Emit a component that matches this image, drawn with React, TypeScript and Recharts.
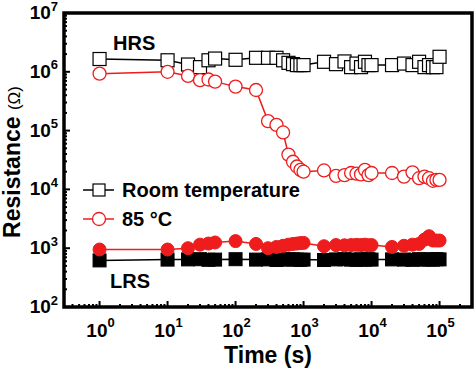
import { LineChart, Line, XAxis, YAxis, ReferenceArea } from 'recharts';

// time points (s)
const times = [1, 10, 20, 30, 40, 50, 100, 200, 300, 400, 500, 600, 700, 800, 900, 1000, 2000, 3000, 4000, 5000, 6000, 7000, 8000, 9000, 10000, 20000, 30000, 40000, 50000, 60000, 70000, 80000, 90000, 100000];

// resistance (ohm)
const rtHrs = [1.65e6, 1.57e6, 1.33e6, 1.2e6, 1.57e6, 1.68e6, 1.6e6, 1.73e6, 1.73e6, 1.73e6, 1.57e6, 1.42e6, 1.35e6, 1.3e6, 1.3e6, 1.3e6, 1.48e6, 1.35e6, 1.5e6, 1.2e6, 1.38e6, 1.2e6, 1.48e6, 1.3e6, 1.3e6, 1.3e6, 1.38e6, 1.3e6, 1.48e6, 1.2e6, 1.3e6, 1.2e6, 1.2e6, 1.8e6];
const hotHrs = [9.3e5, 1.0e6, 8.5e5, 7.2e5, 7.4e5, 6.8e5, 5.6e5, 4.9e5, 1.45e5, 1.25e5, 9.3e4, 3.9e4, 2.95e4, 2.45e4, 2.15e4, 2.0e4, 2.1e4, 1.7e4, 1.75e4, 1.9e4, 1.85e4, 1.8e4, 2.15e4, 1.75e4, 1.9e4, 1.9e4, 1.65e4, 1.95e4, 1.55e4, 1.65e4, 1.55e4, 1.4e4, 1.45e4, 1.45e4];
const hotLrs = [950, 950, 1000, 1150, 1200, 1250, 1320, 1180, 1000, 1050, 1100, 1150, 1180, 1200, 1220, 1230, 1080, 1130, 1120, 1130, 1140, 1130, 1150, 1120, 1130, 1050, 1100, 1150, 1180, 1400, 1600, 1350, 1350, 1350];
const rtLrs = [620, 640, 645, 650, 635, 640, 650, 640, 645, 630, 640, 650, 645, 640, 635, 640, 630, 645, 650, 640, 635, 645, 640, 650, 640, 645, 640, 635, 650, 640, 645, 640, 650, 645];

const xMajorTicks = [1, 10, 100, 1000, 10000, 100000];
const yMajorTicks = [100, 1000, 10000, 100000, 1000000, 10000000];

const toPoints = (vals: number[]) => times.map((t, i) => ({ t, r: vals[i] }));

const withMinors = (majors: number[], lo: number, hi: number) => {
  const out: number[] = [];
  majors.concat([majors[0] / 10]).forEach((m) => {
    for (let k = 1; k <= 9; k++) {
      const v = m * k;
      if (v >= lo && v <= hi) out.push(v);
    }
  });
  return out.sort((a, b) => a - b);
};

const FONT = '"Liberation Sans", Arial, sans-serif';
const RED = '#ee1c1c';

const isMajor = (v: number) => Math.abs(Math.log10(v) - Math.round(Math.log10(v))) < 1e-6;

function XTick({ x, y, payload }: any) {
  const v = payload.value;
  const major = isMajor(v);
  return (
    <g>
      <line x1={x} y1={y} x2={x} y2={y - (major ? 6 : 3)} stroke="#000" strokeWidth={2} />
      {major && (
        <text x={x + 1} y={y + 30} textAnchor="middle" fontFamily={FONT} fontWeight="bold" fontSize={19} fill="#000">
          10<tspan dy={-10} fontSize={13}>{Math.round(Math.log10(v))}</tspan>
        </text>
      )}
    </g>
  );
}

function YTick({ x, y, payload }: any) {
  const v = payload.value;
  const major = isMajor(v);
  return (
    <g>
      <line x1={x} y1={y} x2={x + (major ? 6 : 3)} y2={y} stroke="#000" strokeWidth={2} />
      {major && (
        <text x={x - 6} y={y + 6} textAnchor="end" fontFamily={FONT} fontWeight="bold" fontSize={19} fill="#000">
          10<tspan dy={-8.5} fontSize={13}>{Math.round(Math.log10(v))}</tspan>
        </text>
      )}
    </g>
  );
}

const openSquare = (p: any) => (
  <rect key={p.index} x={p.cx - 6.5} y={p.cy - 6.5} width={13} height={13} fill="#fff" stroke="#000" strokeWidth={1.2} />
);
const filledSquare = (p: any) => (
  <rect key={p.index} x={p.cx - 6.5} y={p.cy - 6.5} width={13} height={13} fill="#000" stroke="#000" />
);

export default function App() {
  return (
    <div style={{ position: 'absolute', left: 0, top: 0, width: 474, height: 370, background: '#fff' }}>
      <LineChart width={474} height={370} margin={{ top: 13, right: 2, bottom: 0, left: 0 }}>
        <XAxis
          dataKey="t"
          type="number"
          scale="log"
          domain={[0.3, 300000]}
          allowDataOverflow
          ticks={withMinors(xMajorTicks, 0.3, 300000)}
          interval={0}
          height={63}
          axisLine={false}
          tickLine={false}
          tickSize={0}
          tickMargin={0}
          tick={<XTick />}
        />
        <YAxis
          dataKey="r"
          type="number"
          scale="log"
          domain={[100, 10000000]}
          allowDataOverflow
          ticks={withMinors(yMajorTicks, 100, 10000000)}
          interval={0}
          width={64}
          axisLine={false}
          tickLine={false}
          tickSize={0}
          tickMargin={0}
          tick={<YTick />}
        />
        <ReferenceArea x1={0.3} x2={300000} y1={100} y2={10000000} fill="none" stroke="#000" strokeWidth={3.5} ifOverflow="visible" />
        <Line data={toPoints(rtLrs)} dataKey="r" stroke="#000" strokeWidth={1.5} dot={filledSquare} isAnimationActive={false} />
        <Line data={toPoints(rtHrs)} dataKey="r" stroke="#000" strokeWidth={1.5} dot={openSquare} isAnimationActive={false} />
        <Line data={toPoints(hotLrs)} dataKey="r" stroke={RED} strokeWidth={1.5} dot={{ r: 6.5, fill: RED, stroke: RED, strokeWidth: 1 }} isAnimationActive={false} />
        <Line data={toPoints(hotHrs)} dataKey="r" stroke={RED} strokeWidth={1.5} dot={{ r: 6.5, fill: '#fff', stroke: RED, strokeWidth: 1.3 }} isAnimationActive={false} />
      </LineChart>
      <svg width={474} height={370} style={{ position: 'absolute', left: 0, top: 0, pointerEvents: 'none' }}>
        <g fontFamily={FONT} fontWeight="bold" fill="#000">
          <text x={113} y={50} fontSize={20}>HRS</text>
          <text x={110} y={288} fontSize={20}>LRS</text>
          <text x={268} y={363} fontSize={23} textAnchor="middle">Time (s)</text>
          <text x={20} y={162} fontSize={23} textAnchor="middle" transform="rotate(-90 20 162)">
            Resistance <tspan fontSize={17} fontWeight="normal">(Ω)</tspan>
          </text>
          <line x1={83} y1={190} x2={114} y2={190} stroke="#000" strokeWidth={1.5} />
          <rect x={93} y={184} width={12} height={12} fill="#fff" stroke="#000" strokeWidth={1.2} />
          <text x={122} y={197} fontSize={20}>Room temperature</text>
          <line x1={83} y1={219} x2={114} y2={219} stroke={RED} strokeWidth={1.5} />
          <circle cx={99} cy={219} r={6.5} fill="#fff" stroke={RED} strokeWidth={1.3} />
          <text x={122} y={226} fontSize={20}>85 °C</text>
        </g>
      </svg>
    </div>
  );
}
